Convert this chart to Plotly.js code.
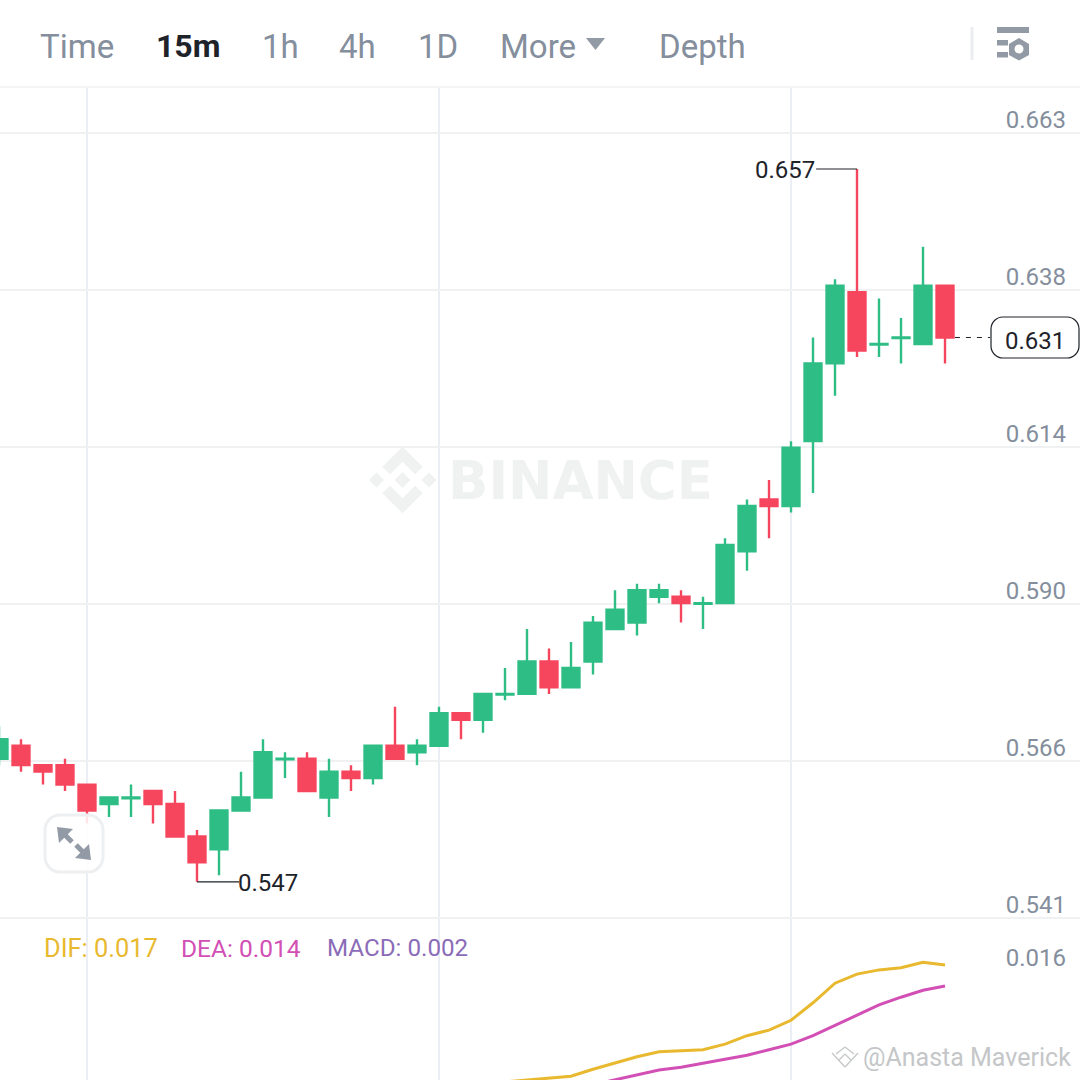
<!DOCTYPE html>
<html>
<head>
<meta charset="utf-8">
<script src="https://cdn.plot.ly/plotly-3.0.1.min.js"></script>
<style>html,body{margin:0;padding:0;background:#fff}#chart{width:1080px;height:1080px}</style>
</head>
<body>
<div id="chart"></div>
<script>
const slots = [0,1,2,3,4,5,6,7,8,9,10,11,12,13,14,15,16,17,18,19,20,21,22,23,24,25,26,27,28,29,30,31,32,33,34,35,36,37,38,39,40,41,42,43];
const opens = [.566,.568,.565,.565,.562,.559,.5599,.561,.559,.554,.552,.558,.560,.5659,.566,.560,.564,.563,.568,.567,.568,.573,.572,.5759,.576,.581,.577,.581,.586,.587,.591,.591,.5899,.590,.598,.606,.605,.615,.627,.638,.6299,.6309,.630,.639];
const highs = [.571,.569,.565,.566,.562,.560,.562,.561,.561,.555,.558,.564,.569,.567,.567,.566,.565,.568,.574,.569,.574,.573,.576,.580,.586,.583,.584,.588,.592,.593,.593,.592,.591,.600,.606,.609,.615,.631,.640,.657,.637,.634,.645,.639];
const lows = [.565,.564,.562,.561,.556,.557,.557,.556,.554,.547,.548,.558,.560,.563,.561,.557,.561,.562,.566,.565,.568,.569,.570,.575,.576,.576,.577,.579,.586,.585,.590,.587,.586,.590,.595,.600,.604,.607,.622,.628,.628,.627,.630,.627];
const closes = [.569,.565,.564,.562,.558,.560,.560,.559,.554,.550,.558,.560,.567,.566,.561,.564,.563,.568,.566,.568,.573,.572,.576,.576,.581,.577,.580,.587,.589,.592,.592,.590,.590,.599,.605,.605,.614,.627,.639,.629,.630,.631,.639,.631];

const difSlots = [23,24,25,26,27,28,29,30,31,32,33,34,35,36,37,38,39,40,41,42,43];
const difValues = [.0003,.0006,.0009,.0011,.0021,.0030,.0039,.0046,.0047,.0049,.0057,.0069,.0077,.0091,.0116,.0144,.0157,.0163,.0166,.0174,.0170];
const deaSlots = [27,28,29,30,31,32,33,34,35,36,37,38,39,40,41,42,43];
const deaValues = [-.0001,.0006,.0013,.0020,.0024,.0030,.0036,.0041,.0049,.0057,.0069,.0084,.0099,.0113,.0124,.0134,.0140];

const priceTickVals = [.66256,.63833,.6141,.58987,.56564,.54141];
const priceTickText = ['0.663','0.638','0.614','0.590','0.566','0.541'];
const macdTickVals = [.016];
const macdTickText = ['0.016'];
const timeGridSlots = [4,20,36];

const periods = [['Time',38,'#848E9C',400],['15m',154,'#1E2329',700],['1h',260,'#848E9C',400],['4h',337,'#848E9C',400],['1D',416,'#848E9C',400],['More',498,'#848E9C',400],['Depth',657,'#848E9C',400]];
const legendItems = [['DIF: 0.017',42,'#E8B92E',25.4],['DEA: 0.014',179,'#D24FB5',24.5],['MACD: 0.002',325,'#8B6CB8',24.2]];

const FONT = 'Roboto, sans-serif';
const DARK = '#1E2329', GREY = '#848E9C', GREEN = '#2EBD85', RED = '#F6465D';
const GRID = '#F0F1F3', ICON = '#929AA5', MARK = '#F0F1F1', CORNER = '#C4C6C8';
const X = px => px / 1080, Y = py => 1 - py / 1080;

function poly(points, fill, layer) {
  const d = points.map((p, i) => (i ? 'L' : 'M') + X(p[0]) + ',' + Y(p[1])).join(' ') + ' Z';
  return {type:'path', xref:'paper', yref:'paper', path:d, fillcolor:fill, line:{width:0}, layer:layer || 'below'};
}
function rounded(x0, y0, x1, y1, r, fill, lineColor, lineWidth, layer) {
  const k = r * 0.45;
  const p = (x, y) => X(x) + ',' + Y(y);
  const d = 'M' + p(x0 + r, y0) + ' L' + p(x1 - r, y0) + ' C' + p(x1 - k, y0) + ' ' + p(x1, y0 + k) + ' ' + p(x1, y0 + r) +
    ' L' + p(x1, y1 - r) + ' C' + p(x1, y1 - k) + ' ' + p(x1 - k, y1) + ' ' + p(x1 - r, y1) +
    ' L' + p(x0 + r, y1) + ' C' + p(x0 + k, y1) + ' ' + p(x0, y1 - k) + ' ' + p(x0, y1 - r) +
    ' L' + p(x0, y0 + r) + ' C' + p(x0, y0 + k) + ' ' + p(x0 + k, y0) + ' ' + p(x0 + r, y0) + ' Z';
  return {type:'path', xref:'paper', yref:'paper', path:d, fillcolor:fill, line:{color:lineColor, width:lineWidth}, layer:layer || 'above'};
}
function seg(x0, y0, x1, y1, color, width, layer) {
  return {type:'line', xref:'paper', yref:'paper', x0:X(x0), y0:Y(y0), x1:X(x1), y1:Y(y1), line:{color:color, width:width}, layer:layer || 'above'};
}

const shapes = [
  seg(0, 87, 1080, 87, '#F3F4F5', 2),
  seg(972, 27, 972, 60, '#EAECEF', 3),
  poly([[586,38],[605,38],[595.5,50]], ICON),
  poly([[997,27],[1029,27],[1029,33],[997,33]], ICON),
  poly([[997,40],[1008,40],[1008,45.5],[997,45.5]], ICON),
  poly([[997,52],[1008,52],[1008,57.5],[997,57.5]], ICON),
  poly([[1019,38],[1029,44],[1029,55],[1019,60.5],[1009,55],[1009,44]], ICON),
  {type:'circle', xref:'paper', yref:'paper', x0:X(1014.5), x1:X(1023.5), y0:Y(53.5), y1:Y(44.5), fillcolor:'#fff', line:{width:0}},
  // watermark logo
  poly([[402.5,446.7],[422.7,466.7],[415,474.3],[402.5,461.7],[390,474.3],[382.3,466.7]], MARK),
  poly([[402.5,513.3],[422.7,493.3],[415,485.7],[402.5,498.3],[390,485.7],[382.3,493.3]], MARK),
  poly([[402.5,472],[410.5,480],[402.5,488],[394.5,480]], MARK),
  poly([[376.5,472.5],[384,480],[376.5,487.5],[369,480]], MARK),
  poly([[429,472.5],[436.5,480],[429,487.5],[421.5,480]], MARK),
  // current price box
  rounded(991, 317, 1079, 358, 12, '#fff', DARK, 1.2),
  // expand button
  rounded(45, 815, 103, 872, 15, 'rgba(255,255,255,0.86)', '#EDEFF1', 3),
  poly([[57,827],[73,829],[59,843]], ICON, 'above'),
  poly([[91,860],[75,858],[89,844]], ICON, 'above'),
  seg(63, 833, 72, 842, ICON, 5),
  seg(76, 845, 85, 854, ICON, 5),
  // corner watermark logo
  seg(832,1053,845,1067,CORNER,1.3), seg(845,1067,858,1053,CORNER,1.3),
  seg(836,1054,845,1047,CORNER,1.3), seg(845,1047,854,1054,CORNER,1.3),
  seg(839,1060,845,1054,CORNER,1.3), seg(845,1054,851,1060,CORNER,1.3)
];

const annotations = [];
periods.forEach(p => annotations.push({xref:'paper', yref:'paper', x:X(p[1]), y:Y(46), xanchor:'left', yanchor:'middle', showarrow:false, text:p[3] === 700 ? '<b>' + p[0] + '</b>' : p[0], font:{family:FONT, size:p[3] === 700 ? 32 : 33, color:p[2]}}));
legendItems.forEach(p => annotations.push({xref:'paper', yref:'paper', x:X(p[1]), y:Y(948), xanchor:'left', yanchor:'middle', showarrow:false, text:p[0], font:{family:FONT, size:p[3], color:p[2]}}));
annotations.push({xref:'paper', yref:'paper', x:X(580), y:Y(480), xanchor:'center', yanchor:'middle', showarrow:false, text:'<b>BINANCE</b>', font:{family:'DejaVu Sans', size:53, color:MARK}});
annotations.push({xref:'paper', yref:'paper', x:X(1035), y:Y(341), xanchor:'center', yanchor:'middle', showarrow:false, text:'0.631', font:{family:FONT, size:24, color:DARK}});
annotations.push({xref:'paper', yref:'paper', x:X(1073), y:Y(1057), xanchor:'right', yanchor:'middle', showarrow:false, text:'@Anasta Maverick', font:{family:FONT, size:25, color:CORNER}});
annotations.push({xref:'x', yref:'y', x:37.18, y:.657, xanchor:'right', yanchor:'middle', yshift:-1, showarrow:false, text:'0.657', font:{family:FONT, size:24, color:DARK}});
annotations.push({xref:'x', yref:'y', x:10.77, y:.547, xanchor:'left', yanchor:'middle', yshift:-1, showarrow:false, text:'0.547', font:{family:FONT, size:24, color:DARK}});

const traces = [
  {type:'candlestick', x:slots, open:opens, high:highs, low:lows, close:closes, xaxis:'x', yaxis:'y', whiskerwidth:0,
   increasing:{line:{color:GREEN, width:2.4}, fillcolor:GREEN}, decreasing:{line:{color:RED, width:2.4}, fillcolor:RED}, hoverinfo:'skip'},
  {type:'scatter', mode:'lines', x:[39,37.14], y:[.657,.657], xaxis:'x', yaxis:'y', line:{color:DARK, width:1.2}},
  {type:'scatter', mode:'lines', x:[9,10.92], y:[.547,.547], xaxis:'x', yaxis:'y', line:{color:DARK, width:1.2}},
  {type:'scatter', mode:'lines', x:[43.45,45.05], y:[.631,.631], xaxis:'x', yaxis:'y', line:{color:DARK, width:1, dash:'5px,6px'}},
  {type:'scatter', mode:'lines', x:difSlots, y:difValues, xaxis:'x', yaxis:'y2', line:{color:'#E8B92E', width:3}},
  {type:'scatter', mode:'lines', x:deaSlots, y:deaValues, xaxis:'x', yaxis:'y2', line:{color:'#D24FB5', width:3}}
];

const layout = {
  width:1080, height:1080, margin:{l:0, r:0, t:0, b:0}, paper_bgcolor:'#fff', plot_bgcolor:'#fff', showlegend:false, boxgap:0.23, boxgroupgap:0,
  xaxis:{range:[0.04545,49.136], domain:[0,1], anchor:'y2', tickmode:'array', tickvals:timeGridSlots, showticklabels:false, ticks:'', showgrid:true, gridcolor:'#ECEEF5', gridwidth:2, zeroline:false, showline:false, rangeslider:{visible:false}},
  yaxis:{domain:[0.13889,0.9194], range:[.53956,.66965], side:'right', tickmode:'array', tickvals:priceTickVals, ticktext:priceTickText, ticks:'', ticklabelposition:'inside', ticklabelstandoff:11, ticklabelshift:-13, tickfont:{family:FONT, size:24, color:GREY}, showgrid:true, gridcolor:GRID, gridwidth:2, zeroline:false, showline:false},
  yaxis2:{domain:[0,0.13889], range:[.00057,.022], side:'right', tickmode:'array', tickvals:macdTickVals, ticktext:macdTickText, ticks:'', ticklabelposition:'inside', ticklabelstandoff:11, ticklabelshift:-14, tickfont:{family:FONT, size:24, color:GREY}, showgrid:false, zeroline:false, showline:false},
  shapes:shapes, annotations:annotations
};
Plotly.newPlot('chart', traces, layout, {staticPlot:true, displayModeBar:false});
</script>
</body>
</html>
